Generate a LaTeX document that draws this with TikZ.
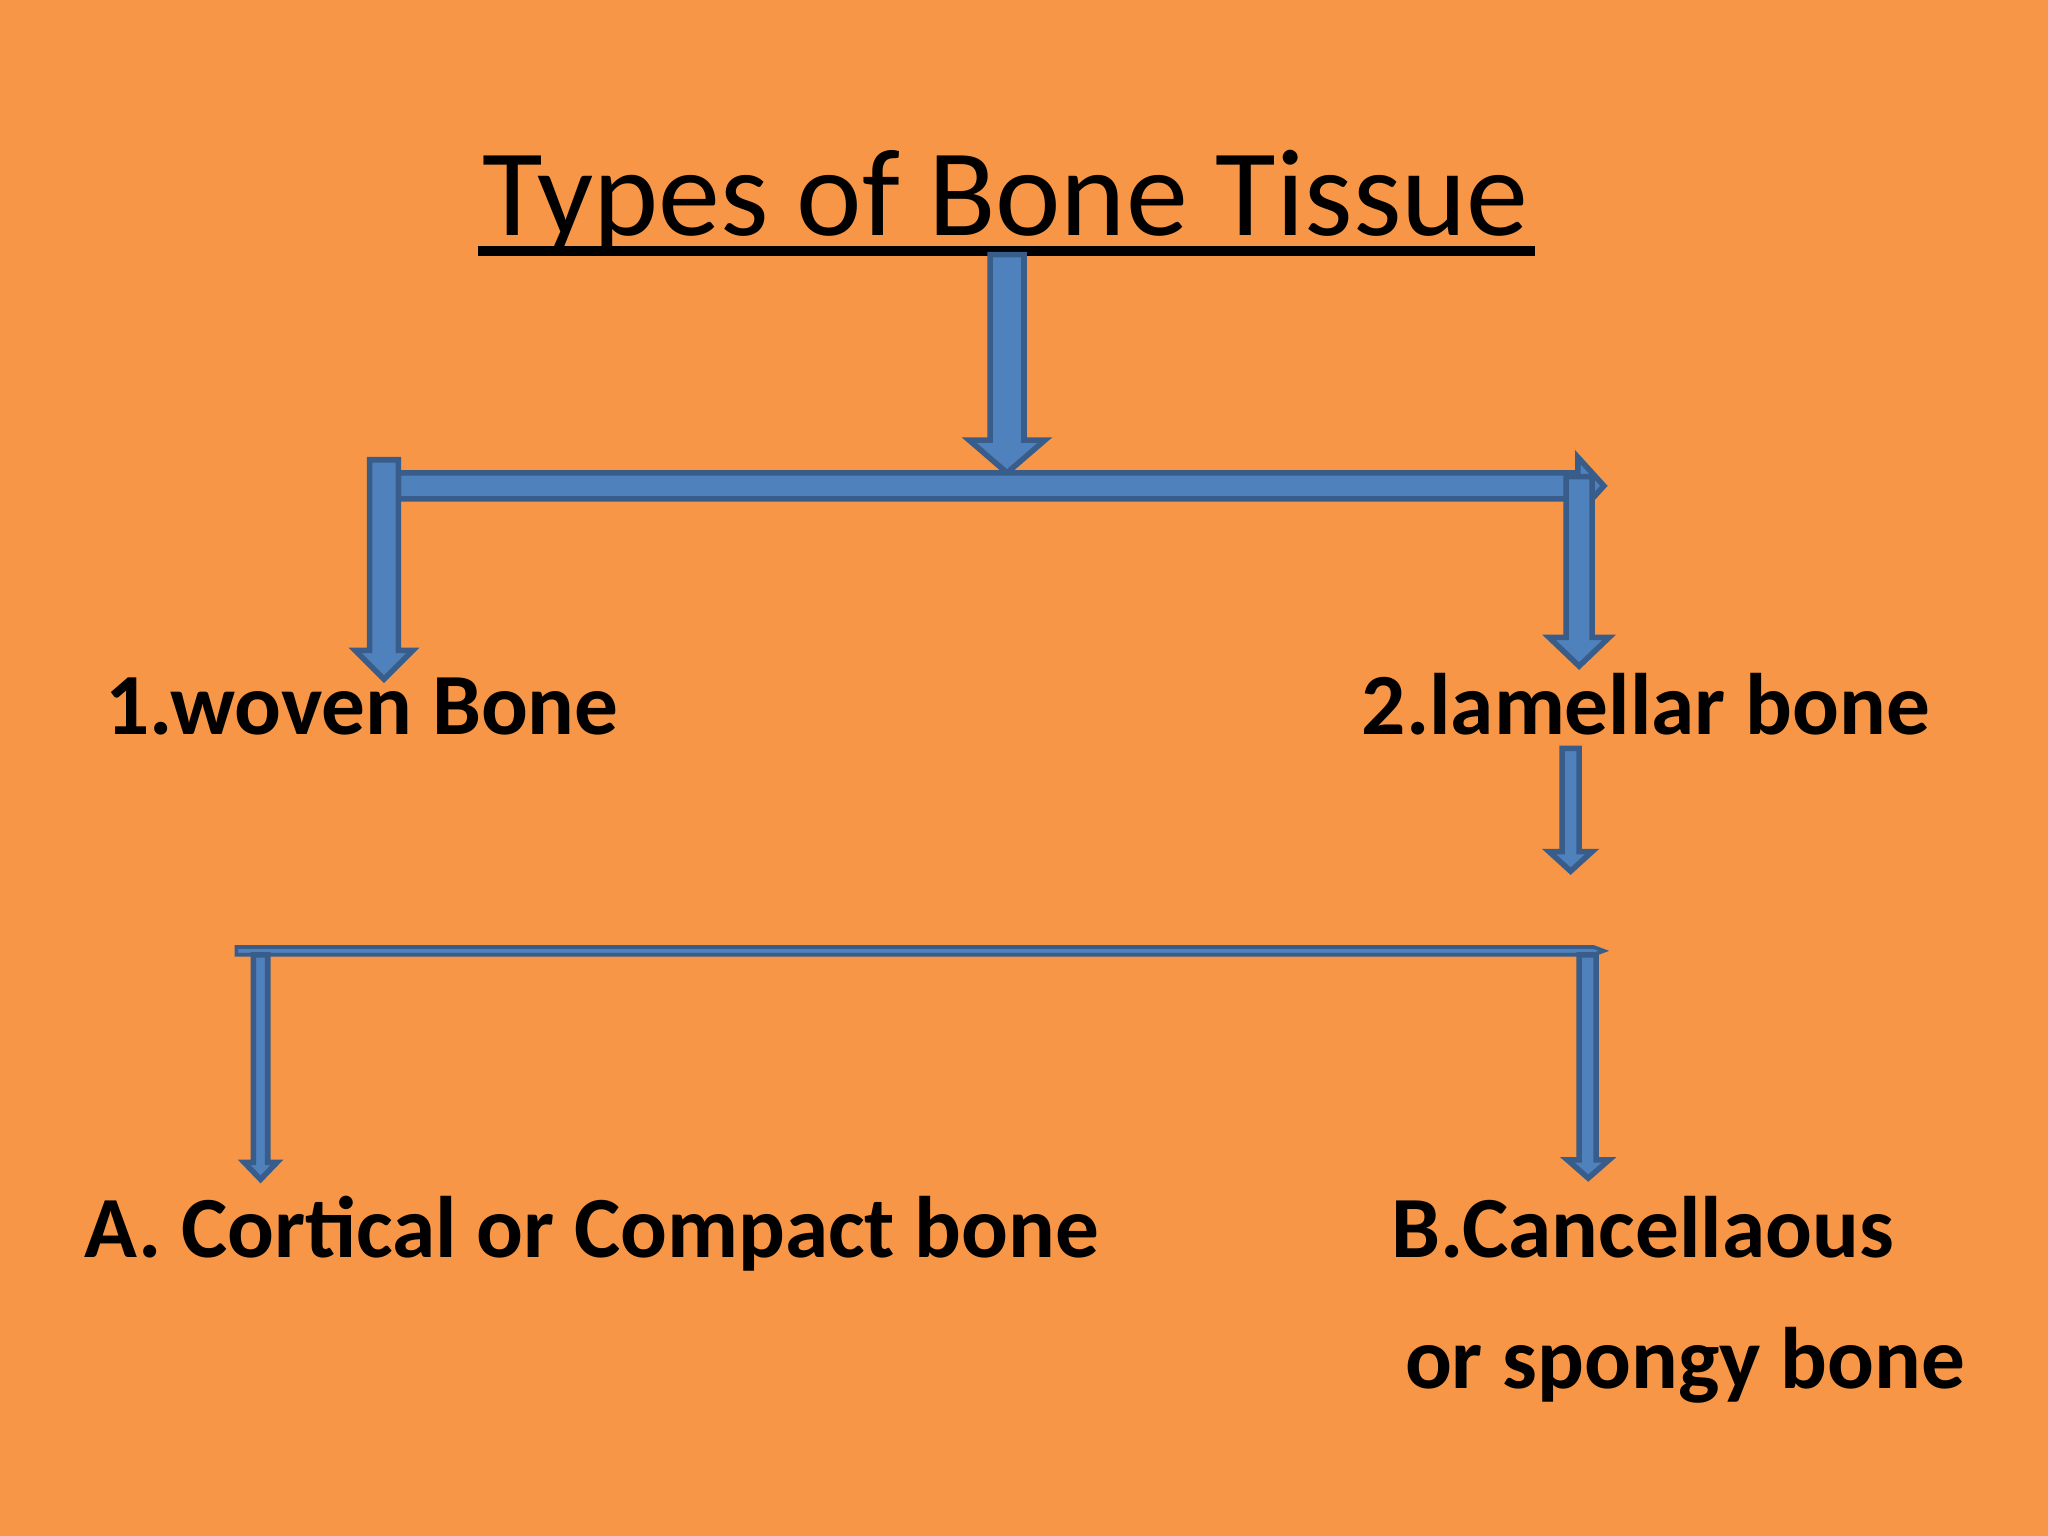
\documentclass[tikz,border=0pt]{standalone}
\usepackage{fontspec}
\setmainfont{Carlito}
\usetikzlibrary{positioning}
\definecolor{slidebg}{HTML}{F79646}
\definecolor{arrowfill}{HTML}{4F81BD}
\definecolor{arrowline}{HTML}{385D8A}
\tikzset{
  blockarrow/.style={fill=arrowfill, draw=arrowline, line width=1.2pt, line join=miter},
  label/.style={anchor=base west, inner sep=0pt, font=\fontsize{19}{23}\selectfont\bfseries},
  heading/.style={anchor=base, inner sep=0pt, font=\fontsize{27}{32}\selectfont}
}
% down block arrow: shaft x1,x2 from ytop to yhead, head hx1..hx2, tip ytip
\newcommand{\downblock}[7]{%
  \draw[blockarrow] (#1,-#3) -- (#2,-#3) -- (#2,-#7) -- (#5,-#7) -- ({(#4+#5)/2},-#6)
    -- (#4,-#7) -- (#1,-#7) -- cycle;}
\begin{document}
\begin{tikzpicture}[x=0.01cm,y=0.01cm]
  \fill[slidebg] (0,0) rectangle (1568,-1176);
  \useasboundingbox (0,0) rectangle (1568,-1176);

  \node[heading] (title) at (770,-180) {Types of Bone Tissue};
  \draw[line width=2.2pt] (366,-192) -- (1175,-192);

  % main split
  \downblock{758}{784}{195}{742}{800}{362}{337}
  \draw[blockarrow] (305,-362) -- (1208,-362) -- (1208,-350) -- (1228,-372)
    -- (1208,-394) -- (1208,-382) -- (305,-382) -- cycle;
  \downblock{283}{305}{352}{272}{316}{520}{498}
  \downblock{1199}{1219}{365}{1186}{1232}{510}{488}

  \node[label] (woven) at (80,-562) {1.woven Bone};
  \node[label] (lamellar) at (1042,-562) {2.lamellar bone};

  % second split
  \downblock{1196}{1209}{573}{1186}{1219}{667}{652}
  \draw[blockarrow, line width=0.8pt] (181,-725) -- (1220,-725) -- (1228,-728)
    -- (1220,-731) -- (181,-731) -- cycle;
  \downblock{194}{205}{731}{187}{212}{903}{890}
  \downblock{1209}{1222}{731}{1200}{1232}{902}{888}

  \node[label] (cortical) at (64,-963) {A. Cortical or Compact bone};
  \node[label] (cancel) at (1065,-963) {B.Cancellaous};
  \node[label] (spongy) at (1075,-1063) {or spongy bone};
\end{tikzpicture}
\end{document}
